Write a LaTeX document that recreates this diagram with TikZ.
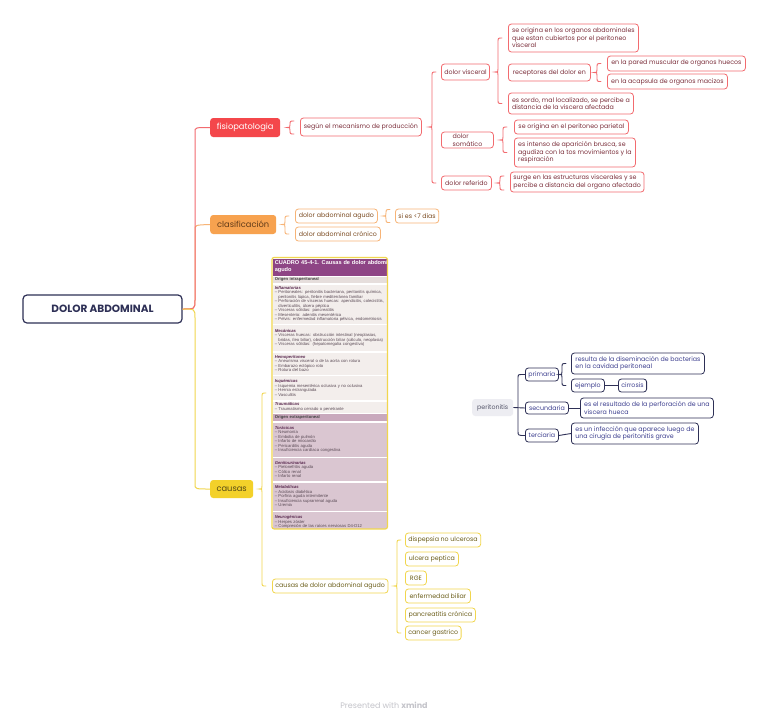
\documentclass[tikz,border=0pt]{standalone}
\usepackage{fontspec}
\setmainfont{Poppins}
\newfontfamily\tabfont{Liberation Sans}
\definecolor{redf}{HTML}{F4474B}
\definecolor{redb}{HTML}{F26B6F}
\definecolor{redt}{HTML}{7B2E3A}
\definecolor{orf}{HTML}{F7A24F}
\definecolor{orb}{HTML}{F7B477}
\definecolor{ort}{HTML}{7A4A20}
\definecolor{yef}{HTML}{F3D12A}
\definecolor{yeb}{HTML}{F1D64E}
\definecolor{yet}{HTML}{6B5E1A}
\definecolor{navy}{HTML}{2E3056}
\definecolor{navt}{HTML}{3D3F8F}
\definecolor{perf}{HTML}{EDEDF2}
\definecolor{pert}{HTML}{55566A}
\definecolor{tabhd}{HTML}{8E4585}
\definecolor{tabin}{HTML}{F3EEEC}
\definecolor{tabinh}{HTML}{E6DEDC}
\definecolor{tabex}{HTML}{DAC6D1}
\definecolor{tabexh}{HTML}{C9A9BD}
\definecolor{tabsect}{HTML}{5A2A50}
\definecolor{tabitem}{HTML}{5A4A55}
\definecolor{foot}{HTML}{C4C4CA}
\newcommand\mybrace[5]{\draw[#5,line width=0.9pt,line cap=round] (#1+4,#2) .. controls (#1,#2) .. (#1,#2+4) -- (#1,#3-3) .. controls (#1,#3) .. (#1-3,#3) .. controls (#1,#3) .. (#1,#3+3) -- (#1,#4-4) .. controls (#1,#4) .. (#1+4,#4);}
\tikzset{
  leaf/.style={draw, rounded corners=3pt, line width=0.8pt, fill=white, font=\fontsize{6.3}{7.4}\selectfont, align=left, anchor=west, inner xsep=3pt, inner ysep=1.5pt},
  rleaf/.style={leaf, draw=redb, text=redt},
  oleaf/.style={leaf, draw=orb, text=ort},
  yleaf/.style={leaf, draw=yeb, text=yet},
  nleaf/.style={leaf, draw=navy, text=navt},
  topic/.style={rounded corners=3pt, anchor=west, font=\fontsize{8.3}{9}\selectfont, inner sep=2pt},
  tabsec/.style={anchor=north west, minimum width=150pt, text width=146pt, inner xsep=2.5pt, inner ysep=0.8pt, align=left, font=\tabfont\fontsize{4.2}{4.5}\selectfont, text=tabitem, draw=white, line width=0.5pt},
}
\newcommand\sect[1]{{\color{tabsect}\bfseries\itshape #1}}
\begin{document}
\begin{tikzpicture}[x=1pt,y=-1pt]
\useasboundingbox (0,0) rectangle (768,718);
\fill[white] (0,0) rectangle (768,718);

% root and main topics
\node[draw=navy, line width=1.2pt, rounded corners=4pt, fill=white, text=navy, minimum width=159pt, minimum height=28pt, font=\bfseries\fontsize{10.5}{11}\selectfont] (root) at (102.5,309) {DOLOR ABDOMINAL};
\node[topic, fill=redf, text=white, minimum width=70pt, minimum height=19pt] (fisio) at (210,127.5) {fisiopatologia};
\node[topic, fill=orf, text=ort!80!black, minimum width=66pt, minimum height=19pt] (clasif) at (210,224.5) {clasificación};
\node[topic, fill=yef, text=yet!80!black, minimum width=43pt, minimum height=18pt] (causas) at (210,489) {causas};

% root connectors
\draw[orb, line width=1pt] (root.east) .. controls (195,309) .. (195,300) -- (195,230) .. controls (195,225) .. (clasif.west);
\draw[redb, line width=1pt] (root.east) .. controls (195,309) .. (195,300) -- (195,132) .. controls (195,127.5) .. (fisio.west);
\draw[yeb, line width=1pt] (root.east) .. controls (195,309) .. (195,318) -- (195,484) .. controls (195,489) .. (causas.west);

% fisiopatologia branch
\node[rleaf, minimum width=121pt, minimum height=18pt] (segun) at (300,127) {según el mecanismo de producción};
\mybrace{290}{121}{127.5}{134}{redb}
\node[rleaf, minimum width=47pt, minimum height=16pt] (dvisc) at (441,72) {dolor visceral};
\node[rleaf, minimum width=52pt, minimum height=16pt] (dsom) at (441,140) {dolor\\somático};
\node[rleaf, minimum width=50pt, minimum height=14pt] (dref) at (441,183) {dolor referido};
\mybrace{432}{72}{127}{183}{redb}

\node[rleaf, minimum width=130pt, minimum height=28pt] (vis1) at (508,38) {se origina en los organos abdominales\\que estan cubiertos por el peritoneo\\visceral};
\node[rleaf, minimum width=82pt, minimum height=17pt] (recep) at (508,72.5) {receptores del dolor en};
\node[rleaf, minimum width=125pt, minimum height=21pt] (vis3) at (508,103.5) {es sordo, mal localizado, se percibe a\\distancia de la viscera afectada};
\mybrace{498}{38}{72}{103.5}{redb}
\node[rleaf, minimum width=138pt, minimum height=15pt] (pared) at (607,63.5) {en la pared muscular de organos huecos};
\node[rleaf, minimum width=120pt, minimum height=15pt] (acaps) at (607,81.5) {en la acapsula de organos macizos};
\mybrace{597}{63.5}{72.5}{81.5}{redb}

\node[rleaf, minimum width=114pt, minimum height=14pt] (som1) at (514,127) {se origina en el peritoneo parietal};
\node[rleaf, minimum width=121pt, minimum height=29pt] (som2) at (514,152.5) {es intenso de aparición brusca, se\\agudiza con la tos movimientos y la\\respiración};
\mybrace{503}{127}{140}{152.5}{redb}
\node[rleaf, minimum width=133pt, minimum height=20pt] (ref1) at (510,182) {surge en las estructuras viscerales y se\\percibe a distancia del organo afectado};
\mybrace{500}{176}{183}{190}{redb}

% clasificacion branch
\node[oleaf, minimum width=82pt, minimum height=14pt] (dagudo) at (295,216) {dolor abdominal agudo};
\node[oleaf, minimum width=85pt, minimum height=14pt] (dcron) at (295,234) {dolor abdominal crónico};
\mybrace{285}{216}{224.5}{234}{orb}
\node[oleaf, minimum width=42pt, minimum height=14pt] (siesm) at (395,216) {si es <7 dias};
\mybrace{386}{209.5}{216}{222.5}{orb}

% causas branch: table picture
\node[anchor=north west, minimum width=115pt, minimum height=271pt, inner sep=0pt] (tabla) at (272,257.5) {};
\begin{scope}
\clip[rounded corners=2pt] (tabla.north west) rectangle (tabla.south east);
\node[tabsec, fill=tabhd, text=white, minimum height=18pt, font=\tabfont\bfseries\fontsize{5.6}{6.4}\selectfont] (t0) at (tabla.north west) {CUADRO 45-4-1. Causas de dolor abdominal\\agudo};
\node[tabsec, fill=tabinh, minimum height=7pt] (t1) at (t0.south west) {\textbf{\color{black!75}Origen intraperitoneal}};
\node[tabsec, fill=tabin, minimum height=40pt] (t2) at (t1.south west) {\sect{Inflamatorias}\\
– Peritoneales: peritonitis bacteriana, peritonitis química,\\
\hphantom{– }peritonitis lúpica, fiebre mediterránea familiar\\
– Perforación de vísceras huecas: apendicitis, colecistitis,\\
\hphantom{– }diverticulitis, úlcera péptica\\
– Vísceras sólidas: pancreatitis\\
– Mesenterio: adenitis mesentérica\\
– Pelvis: enfermedad inflamatoria pélvica, endometriosis};
\node[tabsec, fill=tabin, minimum height=27pt] (t3) at (t2.south west) {\sect{Mecánicas}\\
– Vísceras huecas: obstrucción intestinal (neoplasias,\\
\hphantom{– }bridas, íleo biliar), obstrucción biliar (cálculo, neoplasia)\\
– Vísceras sólidas: (hepatomegalia congestiva)};
\node[tabsec, fill=tabin, minimum height=23pt] (t4) at (t3.south west) {\sect{Hemoperitoneo}\\
– Aneurisma visceral o de la aorta con rotura\\
– Embarazo ectópico roto\\
– Rotura del bazo};
\node[tabsec, fill=tabin, minimum height=25pt] (t5) at (t4.south west) {\sect{Isquémicas}\\
– Isquemia mesentérica oclusiva y no oclusiva\\
– Hernia estrangulada\\
– Vasculitis};
\node[tabsec, fill=tabin, minimum height=12pt] (t6) at (t5.south west) {\sect{Traumáticas}\\
– Traumatismo cerrado o penetrante};
\node[tabsec, fill=tabexh, minimum height=8pt] (t7) at (t6.south west) {\textbf{\color{black!75}Origen extraperitoneal}};
\node[tabsec, fill=tabex, minimum height=35pt] (t8) at (t7.south west) {\sect{Torácicas}\\
– Neumonía\\
– Embolia de pulmón\\
– Infarto de miocardio\\
– Pericarditis aguda\\
– Insuficiencia cardíaca congestiva};
\node[tabsec, fill=tabex, minimum height=24pt] (t9) at (t8.south west) {\sect{Genitourinarias}\\
– Pielonefritis aguda\\
– Cólico renal\\
– Infarto renal};
\node[tabsec, fill=tabex, minimum height=29pt] (t10) at (t9.south west) {\sect{Metabólicas}\\
– Acidosis diabética\\
– Porfiria aguda intermitente\\
– Insuficiencia suprarrenal aguda\\
– Uremia};
\node[tabsec, fill=tabex, minimum height=22pt] (t11) at (t10.south west) {\sect{Neurogénicas}\\
– Herpes zóster\\
– Compresión de las raíces nerviosas D4-D12};
\end{scope}
\draw[yeb, line width=1.2pt, rounded corners=2pt] (tabla.north west) rectangle (tabla.south east);

\node[yleaf, minimum width=115pt, minimum height=14pt] (causasag) at (272,586) {causas de dolor abdominal agudo};
\mybrace{262}{393}{489}{586}{yeb}

\node[yleaf, minimum width=75pt, minimum height=14pt] (c1) at (405,540) {dispepsia no ulcerosa};
\node[yleaf, minimum width=53pt, minimum height=14pt] (c2) at (405,559) {ulcera peptica};
\node[yleaf, minimum width=21pt, minimum height=14pt] (c3) at (405,578) {RGE};
\node[yleaf, minimum width=65pt, minimum height=14pt] (c4) at (405,596) {enfermedad biliar};
\node[yleaf, minimum width=70pt, minimum height=14pt] (c5) at (405,615) {pancreatitis crónica};
\node[yleaf, minimum width=55pt, minimum height=14pt] (c6) at (405,633) {cancer gastrico};
\mybrace{397}{540}{586}{633}{yeb}

% peritonitis floating topic
\node[fill=perf, text=pert, rounded corners=3pt, anchor=west, minimum width=41pt, minimum height=17pt, inner sep=1pt, font=\fontsize{6.3}{7}\selectfont] (perit) at (472,407.5) {peritonitis};
\node[nleaf, minimum width=32pt, minimum height=13pt] (prim) at (525,374.5) {primaria};
\node[nleaf, minimum width=43pt, minimum height=12pt] (secu) at (525,408) {secundaria};
\node[nleaf, minimum width=33pt, minimum height=13pt] (terc) at (525,435.5) {terciaria};
\draw[navy, line width=0.9pt, line cap=round] (prim.west) -- ++(-3,0) .. controls (518,374.5) .. (518,379) -- (518,431) .. controls (518,435.5) .. (terc.west);
\draw[navy, line width=0.9pt] (perit.east) -- (secu.west);
\node[nleaf, minimum width=133pt, minimum height=21pt] (p1) at (571,363.5) {resulta de la diseminación de bacterias\\en la cavidad peritoneal};
\node[nleaf, minimum width=33pt, minimum height=13pt] (ejem) at (571,385.5) {ejemplo};
\node[nleaf, minimum width=27pt, minimum height=13pt] (cirr) at (618,385.5) {cirrosis};
\mybrace{562}{363.5}{374.5}{385.5}{navy}
\draw[navy, line width=0.9pt] (ejem.east) -- (cirr.west);
\node[nleaf, minimum width=133pt, minimum height=20pt] (s1) at (580,408) {es el resultado de la perforación de una\\viscera hueca};
\draw[navy, line width=0.9pt] (secu.east) -- (s1.west);
\node[nleaf, minimum width=127pt, minimum height=21pt] (ter1) at (571,433.5) {es un infección que aparece luego de\\una cirugía de peritonitis grave};
\draw[navy, line width=0.9pt] (terc.east) -- (ter1.west);

% footer
\node[text=foot, font=\fontsize{8}{9}\selectfont] (footer) at (384,705) {Presented with \textbf{xmind}};
\end{tikzpicture}
\end{document}
